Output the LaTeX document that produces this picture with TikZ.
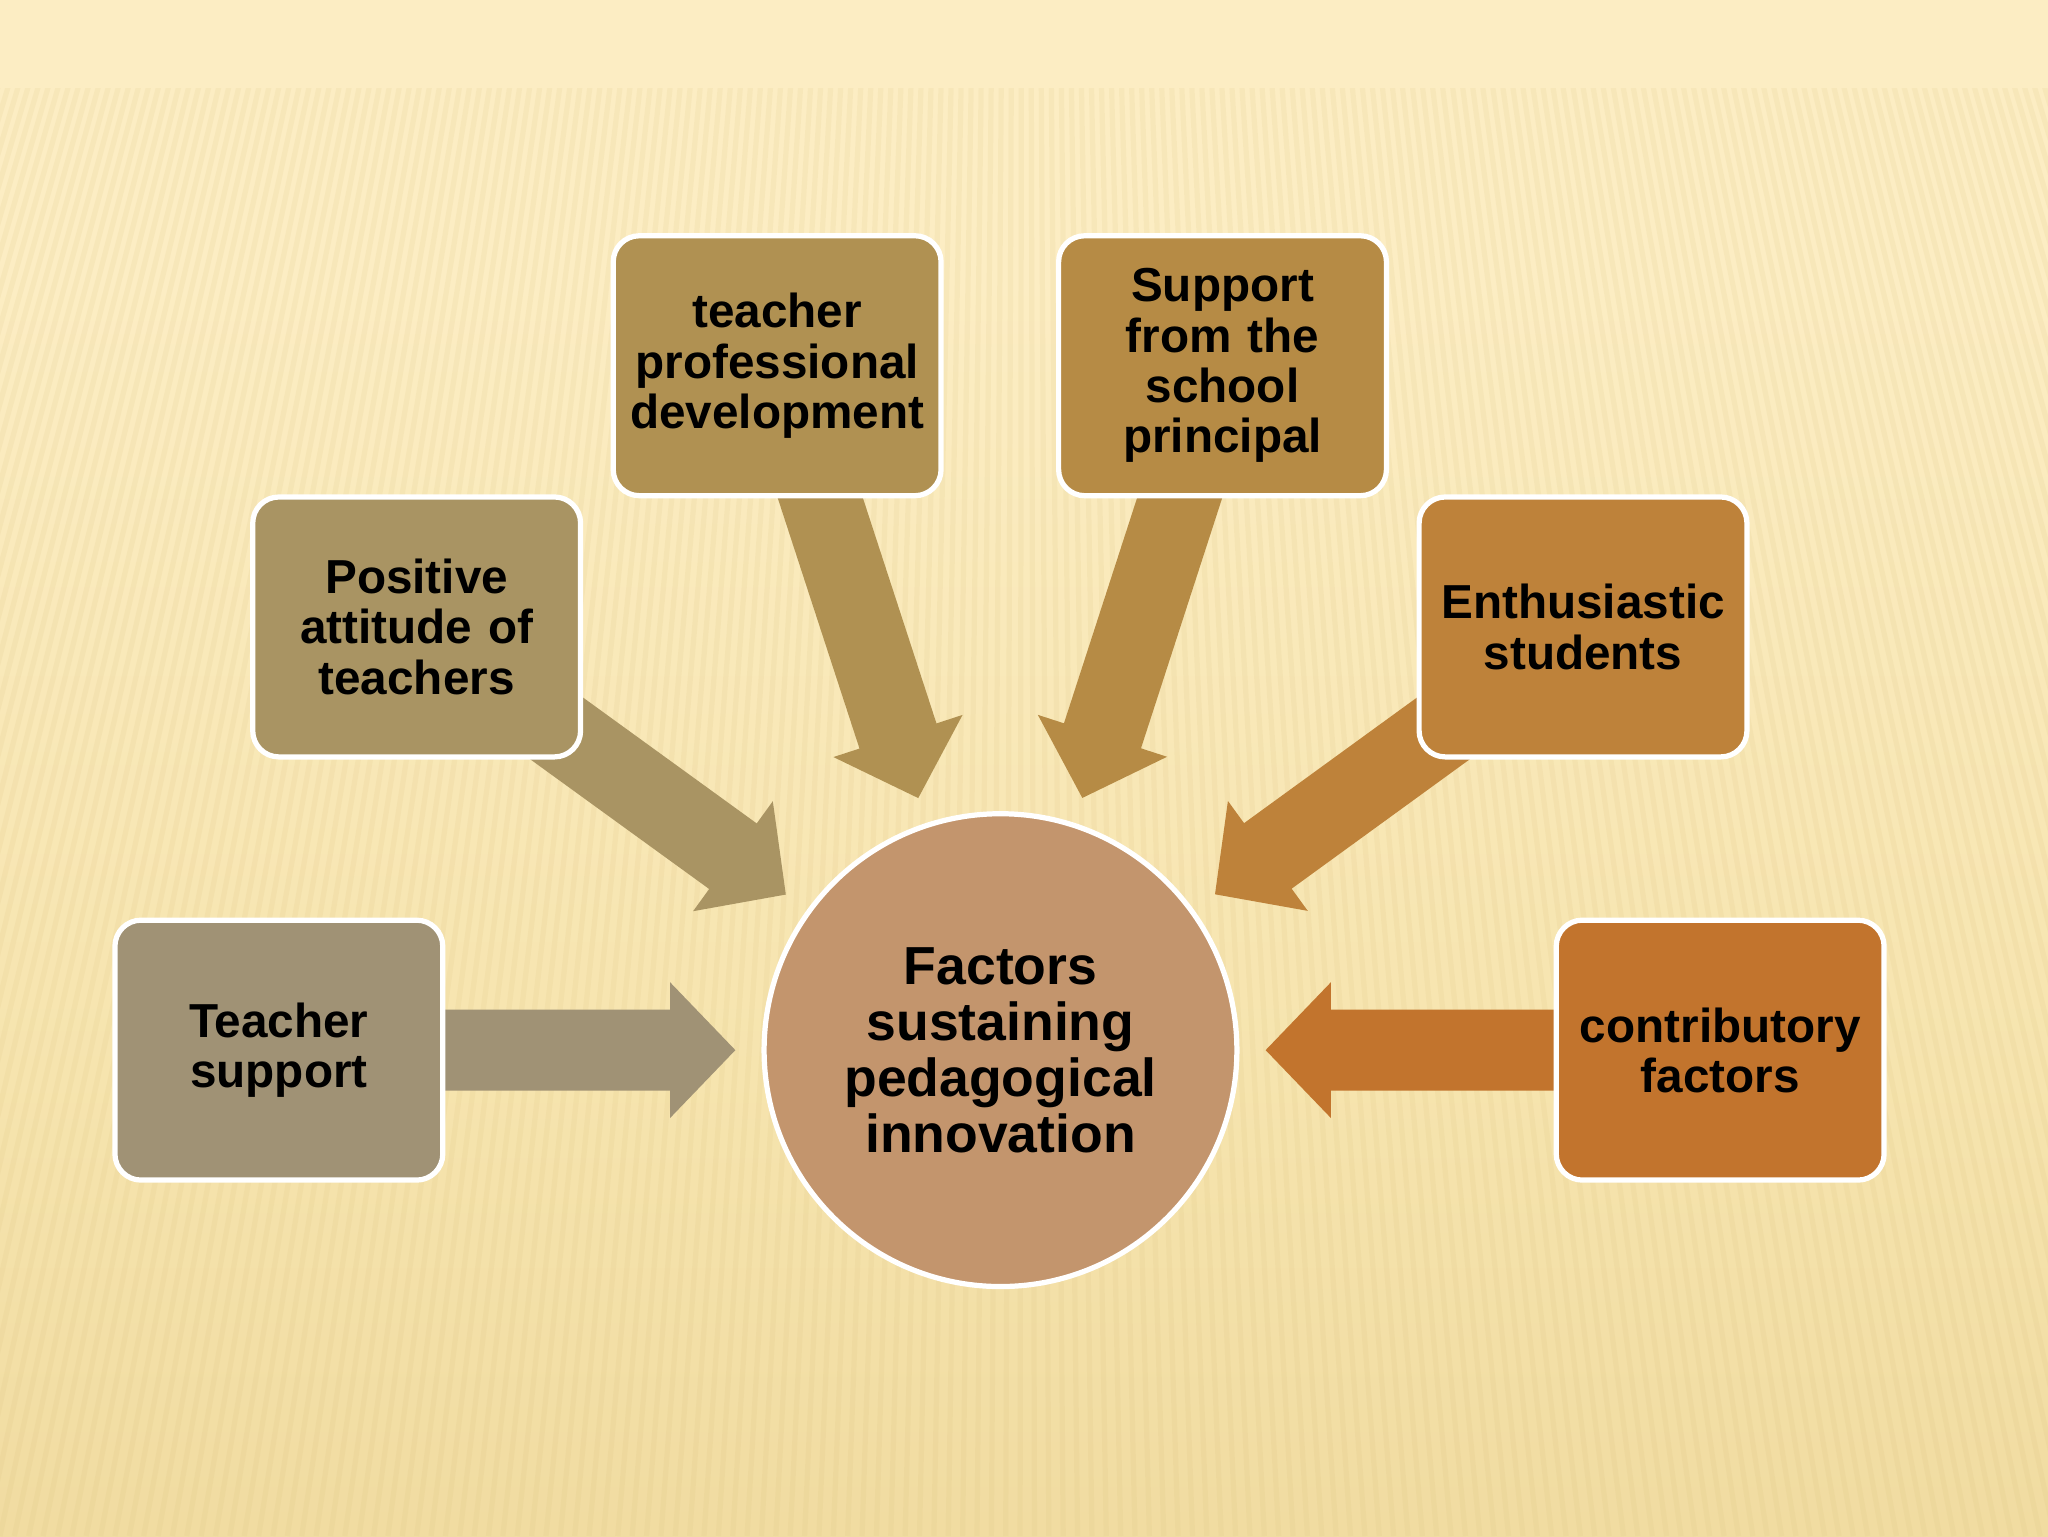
\documentclass[tikz,border=0pt]{standalone}
\usepackage{fontspec}
\setmainfont{Liberation Sans}
\usetikzlibrary{calc}
\pgfdeclarelayer{back}
\pgfdeclarelayer{arrows}
\pgfsetlayers{back,arrows,main}
\definecolor{cTS}{HTML}{A09275}
\definecolor{cPA}{HTML}{A99463}
\definecolor{cTPD}{HTML}{B09152}
\definecolor{cSP}{HTML}{B68B45}
\definecolor{cES}{HTML}{BE823A}
\definecolor{cCF}{HTML}{C2742D}
\definecolor{cHub}{HTML}{C3956D}
\definecolor{bgA}{HTML}{E8CE8C}
\definecolor{bgB}{HTML}{EDD698}
\definecolor{bgC}{HTML}{F6E4AE}
\definecolor{bgD}{HTML}{FCEDC3}
\definecolor{bgE}{HTML}{FCEDC4}
\definecolor{bgF}{HTML}{FFF3CB}
\definecolor{bgG}{HTML}{FFF4CE}
\definecolor{stripe}{HTML}{D8BC78}
\pgfdeclareverticalshading{bgsh}{100bp}{color(0bp)=(bgA); color(15bp)=(bgB); color(40bp)=(bgC); color(66bp)=(bgD); color(93.6bp)=(bgE); color(95.3bp)=(bgF); color(100bp)=(bgG)}
\tikzset{
  box/.style={draw=white, line width=4pt, rounded corners=20pt, minimum width=251pt, minimum height=199pt,
    align=center, text width=240pt, inner sep=0pt, font=\fontsize{36.5pt}{38.5pt}\selectfont\bfseries},
  hub/.style={circle, draw=white, line width=4pt, minimum size=362pt, inner sep=0pt, fill=cHub,
    align=center, font=\fontsize{41pt}{43pt}\selectfont\bfseries},
  stripeline/.style={line width=4pt, draw=stripe, opacity=0.12}
}
\newcommand{\blockarr}[3]{%
  \coordinate (hh) at ($(#2)!50pt!(#1.center)$);
  \fill[#3] ($(#1.center)!31pt!90:(#2)$) -- ($(hh)!31pt!-90:(#1.center)$) -- ($(hh)!52pt!-90:(#1.center)$)
    -- (#2) -- ($(hh)!52pt!90:(#1.center)$) -- ($(hh)!31pt!90:(#1.center)$) -- ($(#1.center)!31pt!-90:(#2)$) -- cycle;}
\begin{document}
\begin{tikzpicture}[x=1pt,y=-1pt]
\useasboundingbox (0,0) rectangle (1568,1176);
\begin{pgfonlayer}{back}
  \shade[shading=bgsh] (0,0) rectangle (1568,1176);
  \begin{scope}
    \clip (0,68) rectangle (1568,1176);
    \foreach \i in {-70,...,215} \draw[stripeline] (784,-2500) -- (\i*11,1176);
  \end{scope}
\end{pgfonlayer}

\node[hub] (c) at (766,804) {Factors\\sustaining\\pedagogical\\innovation};
\node[box, fill=cTS] (ts) at (213.5,804) {Teacher\\support};
\node[box, fill=cPA] (pa) at (319,480) {Positive\\attitude of\\teachers};
\node[box, fill=cTPD] (tpd) at (595,280) {teacher\\professional\\development};
\node[box, fill=cSP] (sp) at (936,280) {Support\\from the\\school\\principal};
\node[box, fill=cES] (es) at (1212,480) {Enthusiastic\\students};
\node[box, fill=cCF] (cf) at (1317,804) {contributory\\factors};

\coordinate (tTS) at ($(c.center)!203pt!(ts.center)$);
\coordinate (tPA) at ($(c.center)!203pt!(pa.center)$);
\coordinate (tTPD) at ($(c.center)!203pt!(tpd.center)$);
\coordinate (tSP) at ($(c.center)!203pt!(sp.center)$);
\coordinate (tES) at ($(c.center)!203pt!(es.center)$);
\coordinate (tCF) at ($(c.center)!203pt!(cf.center)$);

\begin{pgfonlayer}{arrows}
  \blockarr{ts}{tTS}{cTS}
  \blockarr{pa}{tPA}{cPA}
  \blockarr{tpd}{tTPD}{cTPD}
  \blockarr{sp}{tSP}{cSP}
  \blockarr{es}{tES}{cES}
  \blockarr{cf}{tCF}{cCF}
\end{pgfonlayer}
\end{tikzpicture}
\end{document}
